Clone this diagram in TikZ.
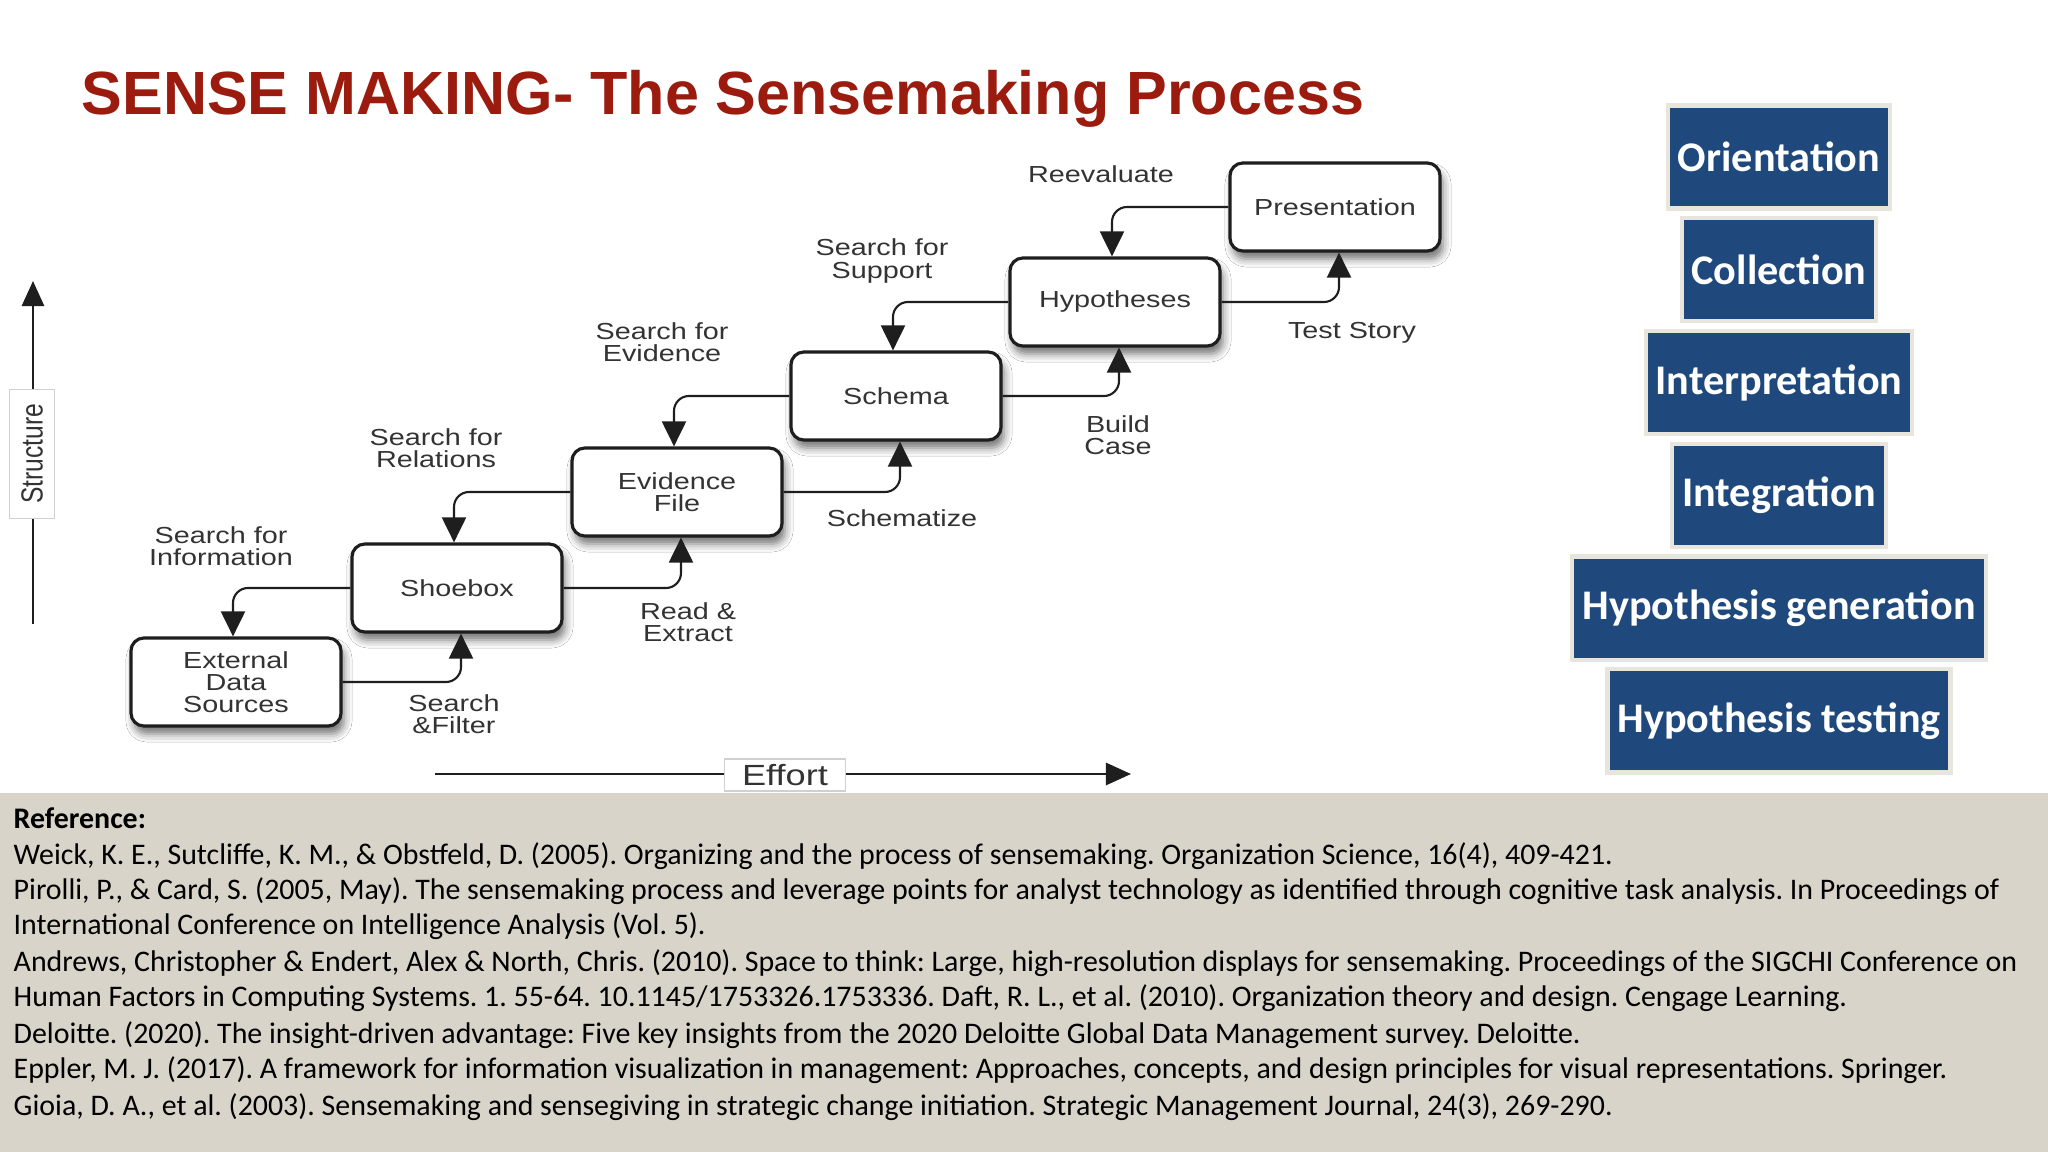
\documentclass[tikz,border=0pt]{standalone}
\usepackage{fontspec}
\setmainfont{Liberation Sans}
\newfontfamily\diagfont[FakeStretch=1.24]{Liberation Sans}
\newfontfamily\slidefont{Carlito}
\usetikzlibrary{arrows.meta,positioning,shadows.blur}
\definecolor{TitleRed}{HTML}{9B1B0F}
\definecolor{Band}{HTML}{D9D4CA}
\definecolor{SlateBlue}{HTML}{1F497D}
\definecolor{BoxRim}{HTML}{E8E6DC}
\definecolor{Ink}{HTML}{1E1E1E}
\definecolor{LabelGrey}{HTML}{333333}
\definecolor{AxisRim}{HTML}{D0D0D0}
\frenchspacing

\tikzset{
  stage/.style={draw=Ink, line width=0.9pt, rounded corners=0.13cm, fill=white,
    minimum width=2.1cm, minimum height=0.88cm, inner ysep=1pt, align=center,
    font=\diagfont\fontsize{6.6}{6.3}\selectfont, text=LabelGrey,
    blur shadow={shadow xshift=0.03cm, shadow yshift=-0.08cm, shadow blur radius=0.08cm, shadow opacity=55}},
  steplabel/.style={align=center, font=\diagfont\fontsize{6.6}{6.3}\selectfont, text=LabelGrey},
  flow/.style={draw=Ink, line width=0.6pt, rounded corners=0.15cm, -{Triangle[length=0.25cm,width=0.24cm]}},
  axisline/.style={draw=Ink, line width=0.8pt, -{Triangle[length=0.25cm,width=0.22cm]}},
  axislabel/.style={fill=white, draw=AxisRim, line width=0.4pt, text=LabelGrey, inner sep=0pt},
  phase/.style={fill=SlateBlue, draw=BoxRim, line width=1.2pt, text=white,
    font=\slidefont\bfseries\fontsize{12}{14}\selectfont, minimum height=1.03cm, inner xsep=0.1cm},
  refline/.style={anchor=base west, inner sep=0pt, font=\slidefont\fontsize{8.5}{10}\selectfont}
}

\begin{document}
\begin{tikzpicture}[x=0.01cm,y=-0.01cm]
\useasboundingbox (0,0) rectangle (2048,1152);
\fill[white] (0,0) rectangle (2048,1152);
\fill[Band] (0,793) rectangle (2048,1152);

% title
\node[anchor=base west, inner sep=0pt, text=TitleRed, font=\bfseries\fontsize{17.36}{20}\selectfont] (title) at (81,115) {SENSE MAKING- The Sensemaking Process};

% axes
\coordinate (s-foot) at (33,624);
\coordinate (s-tip) at (33,281);
\draw[axisline] (s-foot) -- (s-tip);
\node[axislabel, rotate=90, minimum width=1.29cm, minimum height=0.45cm, font=\fontsize{7}{8}\selectfont] (structure) at (32,454) {\scalebox{1}[1.24]{Structure}};
\coordinate (e-foot) at (435,774);
\coordinate (e-tip) at (1131,774);
\draw[axisline] (e-foot) -- (e-tip);
\node[axislabel, minimum width=1.21cm, minimum height=0.32cm, font=\diagfont\fontsize{8.3}{9}\selectfont] (effort) at (785,775) {Effort};

% stages
\node[stage] (ext) at (236,682) {External\\Data\\Sources};
\node[stage] (shoe) at (457,588) {Shoebox};
\node[stage] (evid) at (677,492) {Evidence\\File};
\node[stage] (schema) at (896,396) {Schema};
\node[stage] (hypo) at (1115,302) {Hypotheses};
\node[stage] (pres) at (1335,207) {Presentation};

% forward loops
\draw[flow] (ext.east) -| ([xshift=0.04cm]shoe.south);
\draw[flow] (shoe.east) -| ([xshift=0.04cm]evid.south);
\draw[flow] (evid.east) -| ([xshift=0.04cm]schema.south);
\draw[flow] (schema.east) -| ([xshift=0.04cm]hypo.south);
\draw[flow] (hypo.east) -| ([xshift=0.04cm]pres.south);
% backward loops
\draw[flow] (shoe.west) -| ([xshift=-0.03cm]ext.north);
\draw[flow] (evid.west) -| ([xshift=-0.03cm]shoe.north);
\draw[flow] (schema.west) -| ([xshift=-0.03cm]evid.north);
\draw[flow] (hypo.west) -| ([xshift=-0.03cm]schema.north);
\draw[flow] (pres.west) -| ([xshift=-0.03cm]hypo.north);

% loop labels
\node[steplabel] (l-info) at (221,546) {Search for\\Information};
\node[steplabel] (l-filter) at (454,714) {Search\\\&Filter};
\node[steplabel] (l-rel) at (436,448) {Search for\\Relations};
\node[steplabel] (l-read) at (688,622) {Read \&\\Extract};
\node[steplabel] (l-evid) at (662,342) {Search for\\Evidence};
\node[steplabel] (l-schematize) at (902,518) {Schematize};
\node[steplabel] (l-support) at (882,261) {Search for\\Support};
\node[steplabel] (l-build) at (1118,435) {Build\\Case};
\node[steplabel] (l-reeval) at (1101,174) {Reevaluate};
\node[steplabel] (l-test) at (1352,333) {Test Story};

% phases
\node[phase] (orient) at (1779,157) {Orientation};
\node[phase, below=0.055cm of orient] (collect) {Collection};
\node[phase, below=0.055cm of collect] (interp) {Interpretation};
\node[phase, below=0.055cm of interp] (integ) {Integration};
\node[phase, below=0.055cm of integ] (hgen) {Hypothesis generation};
\node[phase, below=0.055cm of hgen] (htest) {Hypothesis testing};

% references
\node[refline, font=\slidefont\bfseries\fontsize{8.5}{10}\selectfont] (ref0) at (13,828) {Reference:};
\node[refline] (ref1) at (13,864) {Weick, K. E., Sutcliffe, K. M., \& Obstfeld, D. (2005). Organizing and the process of sensemaking. Organization Science, 16(4), 409-421.};
\node[refline] (ref2) at (13,899) {Pirolli, P., \& Card, S. (2005, May). The sensemaking process and leverage points for analyst technology as identified through cognitive task analysis. In Proceedings of};
\node[refline] (ref3) at (13,934) {International Conference on Intelligence Analysis (Vol. 5).};
\node[refline] (ref4) at (13,971) {Andrews, Christopher \& Endert, Alex \& North, Chris. (2010). Space to think: Large, high-resolution displays for sensemaking. Proceedings of the SIGCHI Conference on};
\node[refline] (ref5) at (13,1006) {Human Factors in Computing Systems. 1. 55-64. 10.1145/1753326.1753336. Daft, R. L., et al. (2010). Organization theory and design. Cengage Learning.};
\node[refline] (ref6) at (13,1043) {Deloitte. (2020). The insight-driven advantage: Five key insights from the 2020 Deloitte Global Data Management survey. Deloitte.};
\node[refline] (ref7) at (13,1078) {Eppler, M. J. (2017). A framework for information visualization in management: Approaches, concepts, and design principles for visual representations. Springer.};
\node[refline] (ref8) at (13,1115) {Gioia, D. A., et al. (2003). Sensemaking and sensegiving in strategic change initiation. Strategic Management Journal, 24(3), 269-290.};
\end{tikzpicture}
\end{document}
